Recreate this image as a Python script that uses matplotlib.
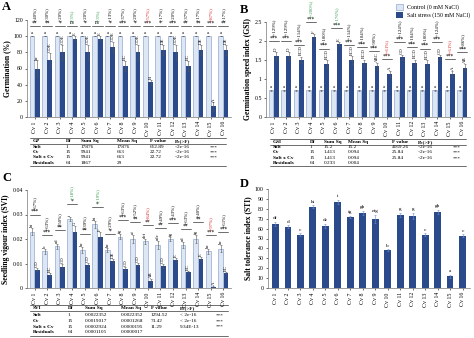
import matplotlib
matplotlib.use("Agg")
import matplotlib.pyplot as plt
import numpy as np

plt.rcParams["font.family"] = ["Liberation Serif", "DejaVu Serif"]

W, H = 474, 338

CULTIVARS = ["Cv " + str(i) for i in range(1, 17)]

# panel A: germination (%)
gp_control = [100] * 16
gp_salt = [60, 70, 80, 97, 80, 97, 87, 63, 80, 43, 83, 80, 63, 83, 13, 83]
gp_salt_err = [10, 9, 9, 3, 9, 3, 6, 6, 9, 3, 6, 9, 6, 6, 5, 6]
gp_stars = ["**", "**", "*", "ns", "*", "ns", "*", "***", "*", "***", "*", "***", "**", "**", "***", "**"]
gp_letters = ["bc", "CDE", "CDE", "E", "CDE", "E", "CDE", "BC", "CDE", "B", "DE", "CDE", "BC", "DE", "A", "DE"]

# panel B: germination speed index
gsi_control = [0.7] * 16
gsi_control_err = [0.01] * 16
gsi_salt = [1.6, 1.6, 1.5, 2.1, 1.4, 1.93, 1.5, 1.43, 1.33, 1.13, 1.57, 1.43, 1.4, 1.57, 1.13, 1.3]
gsi_salt_err = [0.1, 0.1, 0.09, 0.08, 0.1, 0.05, 0.1, 0.08, 0.1, 0.07, 0.06, 0.08, 0.1, 0.06, 0.07, 0.1]
gsi_stars = ["***"] * 16
gsi_letters = ["D", "D", "BCD", "F", "BCD", "E", "BCD", "BCD", "ABC", "A", "CD", "BCD", "BCD", "CD", "A", "AB"]

# panel C: seedling vigour index
svi_control = [0.023, 0.015, 0.017, 0.028, 0.0155, 0.026, 0.0155, 0.021, 0.020, 0.019, 0.0175, 0.020, 0.0175, 0.020, 0.015, 0.016]
svi_control_err = [0.0015, 0.001, 0.001, 0.0008, 0.0012, 0.0015, 0.001, 0.0012, 0.0015, 0.0012, 0.0015, 0.001, 0.0012, 0.0015, 0.001, 0.0015]
svi_salt = [0.0075, 0.0055, 0.0085, 0.023, 0.0095, 0.021, 0.011, 0.0078, 0.0095, 0.003, 0.009, 0.0115, 0.0065, 0.012, 0.0005, 0.0062]
svi_salt_err = [0.0005, 0.0006, 0.0012, 0.0025, 0.0008, 0.002, 0.0008, 0.0008, 0.0006, 0.0006, 0.0007, 0.0007, 0.0005, 0.0008, 0.0002, 0.0005]
svi_stars = ["***", "***", "**", "*", "**", "*", "*", "***", "**", "**", "**", "***", "**", "**", "***", "***"]
svi_ctrl_letters = ["hi", "b", "cd", "i", "bc", "hi", "bc", "fg", "ef", "def", "cde", "fg", "cd", "fg", "bc", "bc"]
svi_letters = ["CD", "BC", "CD", "G", "CD", "F", "DE", "CD", "CD", "AB", "CD", "E", "BC", "E", "A", "BC"]

# panel D: salt tolerance index
sti = [65, 62, 54, 82, 63, 87, 72, 76, 70, 38, 74, 73, 54, 77, 12, 53]
sti_err = [2, 1.5, 1.5, 1.5, 2, 2, 1, 2, 4, 1, 2, 3, 1.5, 2, 1.5, 1.5]
sti_letters = ["df", "d", "c", "hi", "de", "i", "fg", "gh", "efg", "b", "g", "g", "c", "gh", "a", "c"]

# anova tables
gp_table = [["Salt", "1", "17876", "17876", "612.89", "<2e-16", "***"],
            ["Cv", "15", "9941", "663", "22.72", "<2e-16", "***"],
            ["Salt x Cv", "15", "9941", "663", "22.72", "<2e-16", "***"],
            ["Residuals", "64", "1867", "29", "", "", ""]]
gsi_table = [["Salt", "1", "15.2", "15.2", "4169.26", "<2e-16", "***"],
             ["Cv", "15", "1.413", "0.094", "25.84", "<2e-16", "***"],
             ["Salt x Cv", "15", "1.413", "0.094", "25.84", "<2e-16", "***"],
             ["Residuals", "64", "0.233", "0.004", "", "", ""]]
svi_table = [["Salt", "1", "0.0022352", "0.0022352", "1294.52", "< 2e-16", "***"],
             ["Cv", "15", "0.0019017", "0.0001268", "73.42", "< 2e-16", "***"],
             ["Salt x Cv", "15", "0.0002924", "0.0000195", "11.29", "9.34E-13", "***"],
             ["Residuals", "64", "0.0001105", "0.0000017", "", "", ""]]

DARK = "#2a4a8c"
LIGHT = "#dde7f3"
LIGHT_EDGE = "#7d98c8"
GREEN = "#2e9a4a"
RED = "#d42020"


def rect(left, top, right, bottom):
    return [left / W, 1 - bottom / H, (right - left) / W, (bottom - top) / H]


def style_axis(ax, ylim, yticks, ylabel, fmt=None):
    ax.set_xlim(-0.6, 15.6)
    ax.set_ylim(*ylim)
    ax.set_yticks(yticks)
    if fmt:
        ax.set_yticklabels([fmt(v) for v in yticks])
    ax.set_xticks(range(16))
    ax.set_xticklabels(CULTIVARS, rotation=90)
    ax.tick_params(labelsize=4.2, length=1.5, width=0.4, pad=1.5)
    for s in ["top", "right"]:
        ax.spines[s].set_visible(False)
    for s in ["left", "bottom"]:
        ax.spines[s].set_linewidth(0.5)
        ax.spines[s].set_color("#777777")
    ax.set_ylabel(ylabel, fontsize=5.5, fontweight="bold", labelpad=2)


def pct_color(i):
    if i in (3, 5):
        return GREEN
    if i in (9, 14):
        return RED
    return "black"


def paired(ax, ctrl, salt, ctrl_err, salt_err, stars, bracket, ylim):
    x = np.arange(16)
    w = 0.38
    ax.bar(x - w / 2 - 0.02, ctrl, w, color=LIGHT, edgecolor=LIGHT_EDGE, linewidth=0.4,
           yerr=ctrl_err, error_kw=dict(elinewidth=0.4, capsize=0.8, capthick=0.4, ecolor="#555555"))
    ax.bar(x + w / 2 + 0.02, salt, w, color=DARK,
           yerr=salt_err, error_kw=dict(elinewidth=0.4, capsize=0.8, capthick=0.4, ecolor="#555555"))
    span = ylim[1] - ylim[0]
    for i in range(16):
        yb = bracket[i]
        ax.plot([i - 0.4, i + 0.4], [yb, yb], color="black", lw=0.4, clip_on=False)
        ax.text(i, yb + span * 0.005, stars[i], ha="center", va="bottom", fontsize=4, clip_on=False)
        pct = round((salt[i] / ctrl[i] - 1) * 100)
        lab = "(%+d%%)" % pct
        ax.text(i, yb + span * 0.05, lab, rotation=90, ha="center", va="bottom",
                fontsize=3.5, color=pct_color(i), clip_on=False)


def draw_table(rows, header, xs, y_head, y_rows, x0, x1, lines):
    for j, h in enumerate(header):
        fig.text(xs[j] / W, 1 - y_head / H, h, fontsize=3.8, fontweight="bold", ha="left", va="center")
    for r, row in enumerate(rows):
        for j, cell in enumerate(row):
            fig.text(xs[j] / W, 1 - y_rows[r] / H, cell, fontsize=3.8,
                     fontweight="bold" if j == 0 else "normal", ha="left", va="center")
    for yl in lines:
        fig.add_artist(plt.Line2D([x0 / W, x1 / W], [1 - yl / H, 1 - yl / H], color="black", lw=0.4))


fig = plt.figure(figsize=(W / 100, H / 100), dpi=100)

# A
axA = fig.add_axes(rect(27, 20, 231, 117))
paired(axA, gp_control, gp_salt, [0] * 16, gp_salt_err, gp_stars, [113] * 16, (0, 120))
style_axis(axA, (0, 120), [0, 20, 40, 60, 80, 100, 120], "Germination (%)")
for i in range(16):
    axA.text(i - 0.21, gp_control[i] + 1, "a", ha="center", va="bottom", fontsize=3.5)
    axA.text(i + 0.21, gp_salt[i] + gp_salt_err[i] + 1, gp_letters[i], rotation=90,
             ha="center", va="bottom", fontsize=3.5)

# B
axB = fig.add_axes(rect(266, 22, 470, 117))
gsi_bracket = [max(c, s) + 0.4 for c, s in zip(gsi_control, gsi_salt)]
paired(axB, gsi_control, gsi_salt, gsi_control_err, gsi_salt_err, gsi_stars, gsi_bracket, (0, 2.5))
style_axis(axB, (0, 2.5), [0, 0.5, 1, 1.5, 2, 2.5], "Germination speed index (GSI)",
           fmt=lambda v: ("%g" % v))
for i in range(16):
    axB.text(i - 0.21, gsi_control[i] + 0.03, "a", ha="center", va="bottom", fontsize=3.5)
    axB.text(i + 0.21, gsi_salt[i] + gsi_salt_err[i] + 0.03, gsi_letters[i], rotation=90,
             ha="center", va="bottom", fontsize=3.5)

# C
axC = fig.add_axes(rect(27, 190, 231, 288))
svi_bracket = [max(c + ce, s + se) + 0.0055 for c, ce, s, se in
               zip(svi_control, svi_control_err, svi_salt, svi_salt_err)]
paired(axC, svi_control, svi_salt, svi_control_err, svi_salt_err, svi_stars, svi_bracket, (0, 0.04))
style_axis(axC, (0, 0.04), [0, 0.01, 0.02, 0.03, 0.04], "Seedling vigour index (SVI)",
           fmt=lambda v: ("0" if v == 0 else "%g" % v))
for i in range(16):
    axC.text(i - 0.21, svi_control[i] + svi_control_err[i] + 0.0004, svi_ctrl_letters[i], rotation=90,
             ha="center", va="bottom", fontsize=3.5)
    axC.text(i + 0.21, svi_salt[i] + svi_salt_err[i] + 0.0004, svi_letters[i], rotation=90,
             ha="center", va="bottom", fontsize=3.5)

# D
axD = fig.add_axes(rect(268, 189, 470, 288))
axD.bar(np.arange(16), sti, 0.55, color=DARK,
        yerr=sti_err, error_kw=dict(elinewidth=0.4, capsize=0.8, capthick=0.4, ecolor="#6f8fd0"))
style_axis(axD, (0, 100), list(range(0, 101, 10)), "Salt tolerance index (STI)")
for i in range(16):
    axD.text(i, sti[i] + sti_err[i] + 1.5, sti_letters[i], ha="center", va="bottom", fontsize=3.8)

# legend
leg_handles = [plt.Rectangle((0, 0), 1, 1, facecolor=LIGHT, edgecolor=LIGHT_EDGE, lw=0.4),
               plt.Rectangle((0, 0), 1, 1, facecolor=DARK)]
fig.legend(leg_handles, ["Control (0 mM NaCl)", "Salt stress (150 mM NaCl)"],
           loc="upper left", bbox_to_anchor=(392 / W, 1 - 0 / H), frameon=False, fontsize=4.2,
           handlelength=1.2, handleheight=1.2, labelspacing=0.3, borderpad=0.2, handletextpad=0.6)

# tables
header = ["", "Df", "Sum Sq", "Mean Sq", "F value", "Pr(>F)", ""]
draw_table(gp_table, ["GP"] + header[1:], [33, 66, 81, 117, 150, 175, 210],
           141, [147, 152, 157, 163], 30, 226, [138.5, 144, 166])
draw_table(gsi_table, ["GSI"] + header[1:], [273, 310, 324, 348, 392, 418, 453],
           142, [147, 152, 158, 163], 270, 466, [139, 144.5, 166])
draw_table(svi_table, ["SVI"] + header[1:], [33, 68, 85, 121, 151, 180, 216],
           308, [315.5, 321, 326.5, 332], 30, 228, [304.5, 311, 336])

# panel letters
for lab, xp, yp in [("A", 2, 1), ("B", 240, 4), ("C", 2, 172), ("D", 240, 178)]:
    fig.text(xp / W, 1 - yp / H, lab, fontsize=9, fontweight="bold", ha="left", va="top")

fig.savefig("out.png", dpi=100)
